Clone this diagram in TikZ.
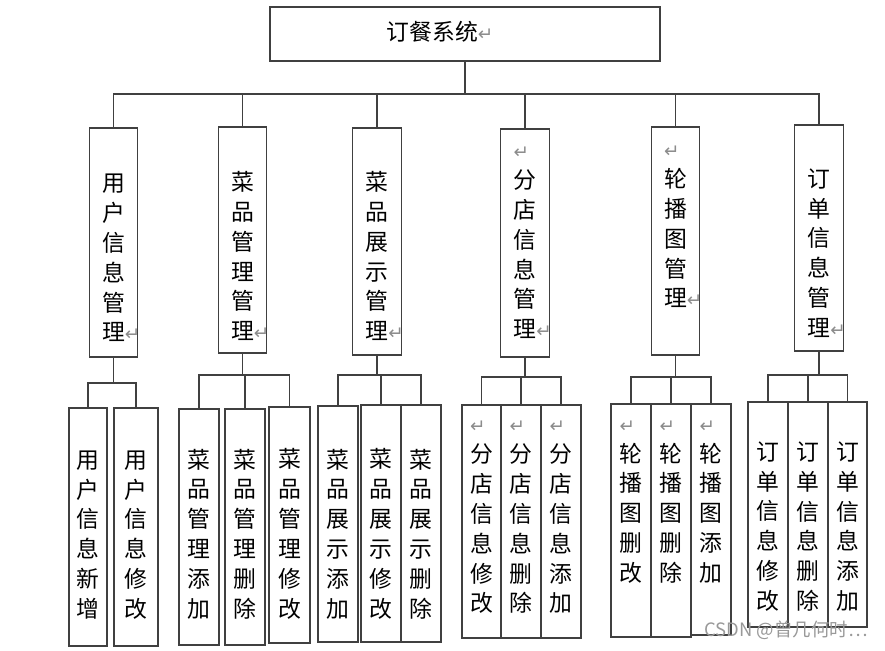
\documentclass[tikz,border=0pt]{standalone}
\usepackage{fontspec}
\newfontfamily\cjk{Noto Sans CJK SC}
\newfontfamily\dejavu{DejaVu Sans}
\newcommand\ret{{\dejavu\fontsize{10.5}{10.5}\selectfont\color{black!45}↵}}
\newcommand\lret{\makebox[1em][l]{\ret}}

\begin{document}
\begin{tikzpicture}[x=0.02cm,y=-0.02cm,
    box/.style={draw=black!75,line width=0.8pt,inner sep=0pt},
    lvl/.style={box,minimum width=0.97cm},
    leaf/.style={box,minimum width=0.8cm},
    vtxt/.style={align=center,inner sep=0pt,font=\cjk\fontsize{13}{17}\selectfont},
    line/.style={draw=black!75,line width=0.8pt},
    wmark/.style={inner sep=0pt,text=black!40,font=\cjk\fontsize{10.5}{12}\selectfont}]
    \useasboundingbox (0,0) rectangle (885,650);

    % Nodes
    \node[box,minimum width=7.8cm,minimum height=1.08cm] (root) at (465,34) {};
    \node[vtxt] (roottxt) at (440,32) {订餐系统\ret};

    \node[lvl,minimum height=4.58cm] (user) at (113.5,242.5) {};
    \node[lvl,minimum height=4.52cm] (dish) at (242.5,240) {};
    \node[lvl,minimum height=4.54cm] (show) at (377,241.5) {};
    \node[lvl,minimum height=4.56cm] (shop) at (525,243) {};
    \node[lvl,minimum height=4.56cm] (banner) at (675.5,241) {};
    \node[lvl,minimum height=4.52cm] (order) at (819,238) {};

    \node[vtxt] (usertxt) at (113.5,258) {用\\户\\信\\息\\管\\理\rlap{\ret}};
    \node[vtxt] (dishtxt) at (242.5,256) {菜\\品\\管\\理\\管\\理\rlap{\ret}};
    \node[vtxt] (showtxt) at (377,256) {菜\\品\\展\\示\\管\\理\rlap{\ret}};
    \node[vtxt] (shoptxt) at (525,243) {\lret\\分\\店\\信\\息\\管\\理\rlap{\ret}};
    \node[vtxt] (bannertxt) at (675.5,227) {\lret\\轮\\播\\图\\管\\理\rlap{\ret}};
    \node[vtxt] (ordertxt) at (819,253) {订\\单\\信\\息\\管\\理\rlap{\ret}};

    \node[leaf,minimum width=0.76cm,minimum height=4.76cm] (useradd) at (88,527) {};
    \node[leaf,minimum width=0.88cm,minimum height=4.76cm] (useredit) at (136,527) {};
    \node[leaf,minimum height=4.72cm] (dishadd) at (199,527) {};
    \node[leaf,minimum height=4.72cm] (dishdel) at (245,527) {};
    \node[leaf,minimum width=0.82cm,minimum height=4.72cm] (dishedit) at (289.5,525) {};
    \node[leaf,minimum height=4.72cm] (showadd) at (338,524) {};
    \node[leaf,minimum height=4.74cm] (showedit) at (381,523.5) {};
    \node[leaf,minimum height=4.74cm] (showdel) at (421,523.5) {};
    \node[leaf,minimum width=0.78cm,minimum height=4.66cm] (shopedit) at (481.5,521.5) {};
    \node[leaf,minimum height=4.66cm] (shopdel) at (521,521.5) {};
    \node[leaf,minimum height=4.66cm] (shopadd) at (561,521.5) {};
    \node[leaf,minimum height=4.66cm] (bannerchg) at (631,520.5) {};
    \node[leaf,minimum height=4.66cm] (bannerdel) at (671,520.5) {};
    \node[leaf,minimum height=4.62cm] (banneradd) at (711,519.5) {};
    \node[leaf,minimum height=4.5cm] (orderedit) at (768,514.5) {};
    \node[leaf,minimum height=4.5cm] (orderdel) at (808,514.5) {};
    \node[leaf,minimum width=0.78cm,minimum height=4.5cm] (orderadd) at (847.5,514.5) {};

    \node[vtxt] (useraddtxt) at (88,535) {用\\户\\信\\息\\新\\增};
    \node[vtxt] (useredittxt) at (136,535) {用\\户\\信\\息\\修\\改};
    \node[vtxt] (dishaddtxt) at (199,534) {菜\\品\\管\\理\\添\\加};
    \node[vtxt] (dishdeltxt) at (245,534) {菜\\品\\管\\理\\删\\除};
    \node[vtxt] (dishedittxt) at (289.5,534) {菜\\品\\管\\理\\修\\改};
    \node[vtxt] (showaddtxt) at (338,534) {菜\\品\\展\\示\\添\\加};
    \node[vtxt] (showedittxt) at (381,534) {菜\\品\\展\\示\\修\\改};
    \node[vtxt] (showdeltxt) at (421,534) {菜\\品\\展\\示\\删\\除};
    \node[vtxt] (shopedittxt) at (481.5,517.5) {\lret\\分\\店\\信\\息\\修\\改};
    \node[vtxt] (shopdeltxt) at (521,517.5) {\lret\\分\\店\\信\\息\\删\\除};
    \node[vtxt] (shopaddtxt) at (561,517.5) {\lret\\分\\店\\信\\息\\添\\加};
    \node[vtxt] (bannerchgtxt) at (631,502) {\lret\\轮\\播\\图\\删\\改};
    \node[vtxt] (bannerdeltxt) at (671,502) {\lret\\轮\\播\\图\\删\\除};
    \node[vtxt] (banneraddtxt) at (711,502) {\lret\\轮\\播\\图\\添\\加};
    \node[vtxt] (ordeedittxt) at (768,526.5) {订\\单\\信\\息\\修\\改};
    \node[vtxt] (orderdeltxt) at (808,526.5) {订\\单\\信\\息\\删\\除};
    \node[vtxt] (orderaddtxt) at (847.5,526.5) {订\\单\\信\\息\\添\\加};

    \node[wmark] (csdn) at (786,630) {CSDN @曾几何时…};

    % Connections
    \coordinate (bus) at (0,94);
    \draw[line] (root.south) -- (root.south |- bus);
    \draw[line] (user.north) |- (order.north |- bus) -- (order.north);
    \draw[line] (dish.north) -- (dish.north |- bus);
    \draw[line] (show.north) -- (show.north |- bus);
    \draw[line] (shop.north) -- (shop.north |- bus);
    \draw[line] (banner.north) -- (banner.north |- bus);

    \coordinate (g1) at (0,383);
    \draw[line] (user.south) -- (user.south |- g1);
    \draw[line] (useradd.north) |- (useredit.north |- g1) -- (useredit.north);

    \coordinate (g2) at (0,375);
    \draw[line] (dish.south) -- (dish.south |- g2);
    \draw[line] (dishadd.north) |- (dishedit.north |- g2) -- (dishedit.north);
    \draw[line] (dishdel.north) -- (dishdel.north |- g2);

    \coordinate (g3) at (0,375);
    \draw[line] (show.south) -- (show.south |- g3);
    \draw[line] (showadd.north) |- (showdel.north |- g3) -- (showdel.north);
    \draw[line] (showedit.north) -- (showedit.north |- g3);

    \coordinate (g4) at (0,377);
    \draw[line] (shop.south) -- (shop.south |- g4);
    \draw[line] (shopedit.north) |- (shopadd.north |- g4) -- (shopadd.north);
    \draw[line] (shopdel.north) -- (shopdel.north |- g4);

    \coordinate (g5) at (0,377);
    \draw[line] (banner.south) -- (banner.south |- g5);
    \draw[line] (bannerchg.north) |- (banneradd.north |- g5) -- (banneradd.north);
    \draw[line] (bannerdel.north) -- (bannerdel.north |- g5);

    \coordinate (g6) at (0,375);
    \draw[line] (order.south) -- (order.south |- g6);
    \draw[line] (orderedit.north) |- (orderadd.north |- g6) -- (orderadd.north);
    \draw[line] (orderdel.north) -- (orderdel.north |- g6);
\end{tikzpicture}
\end{document}
